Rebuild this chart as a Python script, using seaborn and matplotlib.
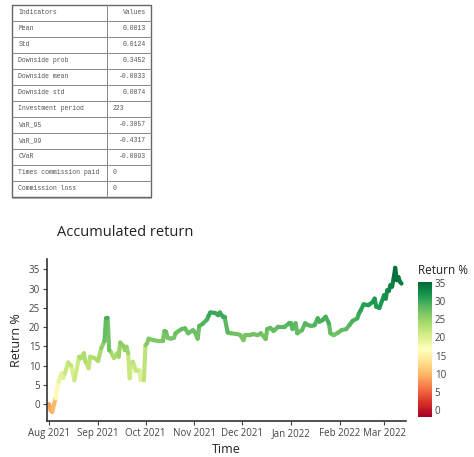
import pandas as pd
import numpy as np
import matplotlib.pyplot as plt
import matplotlib.dates as mdates
from matplotlib.colors import Normalize, PowerNorm
from matplotlib.cm import ScalarMappable
import seaborn as sns

# table contents
indicators = ['Mean', 'Std', 'Downside prob', 'Downside mean', 'Downside std',
              'Investment period', 'VaR_95', 'VaR_99', 'CVaR',
              'Times commission paid', 'Commission loss']
values = ['0.0013', '0.0124', '0.3452', '-0.0033', '0.0074', '223',
          '-0.3057', '-0.4317', '-0.0093', '0', '0']

# accumulated return series
dates = ['2021-08-01', '2021-08-02', '2021-08-03', '2021-08-05', '2021-08-07', '2021-08-09',
         '2021-08-10', '2021-08-11', '2021-08-13', '2021-08-15', '2021-08-17', '2021-08-20',
         '2021-08-21', '2021-08-23', '2021-08-24', '2021-08-26', '2021-08-27', '2021-08-30',
         '2021-09-01', '2021-09-03', '2021-09-05', '2021-09-06', '2021-09-07', '2021-09-08',
         '2021-09-09', '2021-09-11', '2021-09-13', '2021-09-14', '2021-09-15', '2021-09-17',
         '2021-09-18', '2021-09-19', '2021-09-20', '2021-09-21', '2021-09-22', '2021-09-23',
         '2021-09-25', '2021-09-27', '2021-09-28', '2021-09-30', '2021-10-01', '2021-10-02',
         '2021-10-03', '2021-10-06', '2021-10-09', '2021-10-12', '2021-10-13', '2021-10-14',
         '2021-10-15', '2021-10-17', '2021-10-19', '2021-10-20', '2021-10-22', '2021-10-24',
         '2021-10-26', '2021-10-28', '2021-10-31', '2021-11-01', '2021-11-03', '2021-11-04',
         '2021-11-06', '2021-11-09', '2021-11-10', '2021-11-11', '2021-11-14', '2021-11-16',
         '2021-11-17', '2021-11-19', '2021-11-20', '2021-11-22', '2021-11-24', '2021-11-28',
         '2021-11-30', '2021-12-02', '2021-12-03', '2021-12-06', '2021-12-08', '2021-12-11',
         '2021-12-13', '2021-12-16', '2021-12-17', '2021-12-19', '2021-12-21', '2021-12-24',
         '2021-12-28', '2021-12-31', '2022-01-01', '2022-01-02', '2022-01-04', '2022-01-05',
         '2022-01-08', '2022-01-10', '2022-01-12', '2022-01-14', '2022-01-16', '2022-01-18',
         '2022-01-19', '2022-01-21', '2022-01-23', '2022-01-25', '2022-01-26', '2022-01-28',
         '2022-01-31', '2022-02-02', '2022-02-05', '2022-02-07', '2022-02-09', '2022-02-12',
         '2022-02-13', '2022-02-14', '2022-02-16', '2022-02-19', '2022-02-22', '2022-02-23',
         '2022-02-24', '2022-02-26', '2022-03-01', '2022-03-02', '2022-03-03', '2022-03-04',
         '2022-03-05', '2022-03-06', '2022-03-07', '2022-03-08', '2022-03-09', '2022-03-10',
         '2022-03-11', '2022-03-12']
returns = [0.0, -1.6, -2.0, 1.5, 5.8, 8.0,
           6.8, 8.0, 10.8, 10.0, 6.2, 12.3,
           11.9, 13.2, 11.0, 9.3, 12.3, 11.9,
           11.2, 14.5, 16.4, 22.3, 22.4, 14.0,
           13.6, 12.0, 13.2, 12.3, 16.0, 15.1,
           14.0, 14.9, 13.2, 6.7, 10.6, 11.0,
           8.6, 8.8, 6.2, 6.2, 15.3, 15.8,
           17.0, 16.6, 16.4, 16.4, 19.0, 18.8,
           17.2, 17.0, 17.2, 18.4, 19.0, 19.5,
           19.7, 18.4, 19.2, 18.8, 17.0, 20.3,
           20.8, 22.0, 23.0, 23.8, 23.7, 23.1,
           23.8, 22.7, 22.7, 18.6, 18.4, 18.2,
           17.9, 16.6, 17.9, 17.9, 18.2, 17.9,
           18.4, 16.9, 19.5, 19.8, 19.0, 20.1,
           20.1, 21.0, 21.0, 19.5, 21.0, 18.4,
           19.2, 21.0, 20.5, 20.3, 20.5, 22.3,
           21.4, 21.8, 22.7, 21.0, 18.4, 17.9,
           18.6, 19.2, 19.5, 20.5, 21.6, 22.3,
           23.5, 24.2, 25.9, 25.7, 26.6, 27.4,
           25.3, 25.0, 28.3, 27.4, 29.6, 29.4,
           30.9, 30.5, 32.6, 35.4, 32.2, 33.0,
           31.8, 31.3]
month_ticks = ['2021-08-01', '2021-09-01', '2021-10-01', '2021-11-01', '2021-12-01',
               '2022-01-01', '2022-02-01', '2022-03-01']

sns.set_style('white')
plt.rcParams['font.family'] = ['Open Sans', 'DejaVu Sans']

fig = plt.figure(figsize=(4.74, 4.57), dpi=100)

# ---- the indicator table (drawn in pixel coordinates) ----
tab = fig.add_axes([0, 0, 1, 1])
tab.set_xlim(0, 474)
tab.set_ylim(457, 0)
tab.axis('off')
x0, xm, x1 = 12.5, 107.5, 151
y0, rh = 4.5, 16
rows = [('Indicators', 'Values')] + list(zip(indicators, values))
y1 = y0 + rh * len(rows)
tab.plot([x0, x1, x1, x0, x0], [y0, y0, y1, y1, y0], color='#666666', lw=1.0)
tab.plot([x0, x1], [y1 + 1.2, y1 + 1.2], color='#aaaaaa', lw=0.7)
tab.plot([xm, xm], [y0, y1], color='#888888', lw=0.7)
for i in range(1, len(rows)):
    tab.plot([x0, x1], [y0 + i * rh] * 2, color='#888888', lw=0.7)
mono = dict(family='Liberation Mono', fontsize=4.7, color='#555555', va='center')
for i, (name, val) in enumerate(rows):
    yc = y0 + (i + 0.5) * rh
    tab.text(x0 + 6, yc, name, ha='left', **mono)
    if i > 0 and '.' not in val:
        tab.text(xm + 5, yc, val, ha='left', **mono)
    else:
        tab.text(x1 - 5, yc, val, ha='right', **mono)

# ---- accumulated return chart ----
ax = fig.add_axes([47 / 474, 1 - 421 / 457, 359 / 474, 162 / 457])

d = pd.to_datetime(pd.Series(dates))
r = np.array(returns)
seg_rows = []
for i in range(len(r) - 1):
    c = (r[i] + r[i + 1]) / 2
    seg_rows.append({'Time': d[i], 'Return %': r[i], 'seg': i, 'c': c})
    seg_rows.append({'Time': d[i + 1], 'Return %': r[i + 1], 'seg': i, 'c': c})
seg_df = pd.DataFrame(seg_rows)

line_norm = PowerNorm(gamma=0.4, vmin=-2.5, vmax=36)
sns.lineplot(data=seg_df, x='Time', y='Return %', hue='c', units='seg', estimator=None,
             palette='RdYlGn', hue_norm=line_norm, legend=False, lw=3.0,
             solid_capstyle='round', ax=ax)

ax.set_xlim(pd.Timestamp('2021-07-30 16:00'), pd.Timestamp('2022-03-14 20:00'))
ax.set_ylim(-4.4, 37.7)
ax.set_yticks(range(0, 36, 5))
ax.set_xticks(pd.to_datetime(month_ticks))
ax.xaxis.set_major_formatter(mdates.DateFormatter('%b %Y'))
ax.tick_params(axis='both', labelsize=7, colors='#444444', length=3, width=0.8,
               direction='out', bottom=True, left=True, pad=2)
sns.despine(ax=ax)
for s in ['left', 'bottom']:
    ax.spines[s].set_color('#333333')
    ax.spines[s].set_linewidth(1.2)
ax.set_xlabel('Time', fontsize=9, color='#222222', labelpad=3)
ax.set_ylabel('Return %', fontsize=9, color='#222222', labelpad=4)

fig.text(57 / 474, 1 - 232 / 457, 'Accumulated return', fontsize=10.5, color='#222222',
         ha='left', va='center')

# colorbar
cax = fig.add_axes([418 / 474, 1 - 416.7 / 457, 14 / 474, 135 / 457])
sm = ScalarMappable(norm=Normalize(vmin=-1.8, vmax=35.3), cmap='RdYlGn')
cb = fig.colorbar(sm, cax=cax, ticks=range(0, 36, 5))
cb.outline.set_visible(False)
cax.tick_params(length=0, labelsize=7, colors='#444444', pad=2)
fig.text(418 / 474, 1 - 270 / 457, 'Return %', fontsize=8.5, color='#222222',
         ha='left', va='center')

fig.savefig('out.png', dpi=100)
